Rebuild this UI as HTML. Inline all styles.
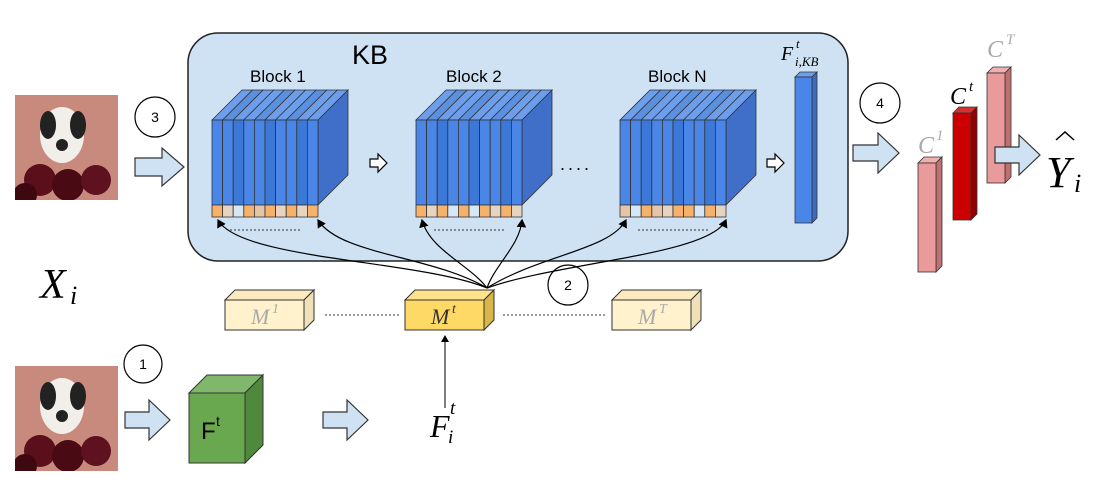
<!DOCTYPE html>
<html><head><meta charset="utf-8"><style>
html,body{margin:0;padding:0;background:#fff;}
svg{display:block;}
.m{font-family:"Liberation Serif",serif;font-style:italic;}
.s{font-family:"Liberation Sans",sans-serif;}
</style></head><body>
<svg id="c" width="1106" height="485" viewBox="0 0 1106 485" xmlns="http://www.w3.org/2000/svg">
<defs>
<marker id="ah" markerWidth="8" markerHeight="8" refX="6" refY="4" orient="auto"><path d="M0,0 L7,4 L0,8 z" fill="#000"/></marker>
<clipPath id="dc"><rect x="15" y="95" width="103" height="105"/></clipPath>
</defs>
<rect x="188" y="33" width="660" height="228" rx="30" fill="#cfe2f3" stroke="#222" stroke-width="1.5"/>
<text x="352" y="64" class="s" font-size="27">KB</text>
<text x="250" y="82" class="s" font-size="17">Block 1</text>
<text x="446" y="82" class="s" font-size="17">Block 2</text>
<text x="648" y="82" class="s" font-size="17">Block N</text>
<g id="blocks"></g>
<text x="560" y="170" class="s" font-size="18" letter-spacing="3">....</text>
<path d="M370,159 h8 v-5 l9,9 l-9,9 v-5 h-8 z" fill="#fff" stroke="#000" stroke-width="1.2"/>
<path d="M767,159 h8 v-5 l9,9 l-9,9 v-5 h-8 z" fill="#fff" stroke="#000" stroke-width="1.2"/>
<!-- F_KB bar -->
<polygon points="795,77 800,72 817,72 812,77" fill="#6d9eeb" stroke="#333" stroke-width="0.8"/>
<polygon points="812,77 817,72 817,218 812,223" fill="#3c6bc4" stroke="#333" stroke-width="0.8"/>
<rect x="795" y="77" width="17" height="146" fill="#4a86e8" stroke="#333" stroke-width="0.8"/>
<text x="781" y="60" class="m" font-size="20">F</text><text x="796" y="48" class="m" font-size="13">t</text><text x="795" y="66" class="m" font-size="13">i,KB</text>
<!-- dog images -->
<g id="dog1"><g clip-path="url(#dc)"><rect x="15" y="95" width="103" height="105" fill="#c98a7e"/><ellipse cx="62" cy="135" rx="22" ry="28" fill="#f2eeea"/><ellipse cx="48" cy="125" rx="8" ry="14" fill="#222"/><ellipse cx="78" cy="125" rx="8" ry="14" fill="#222"/><circle cx="62" cy="145" r="6" fill="#222"/><circle cx="40" cy="180" r="16" fill="#5a0f1a"/><circle cx="68" cy="185" r="16" fill="#4a0a14"/><circle cx="96" cy="180" r="15" fill="#5e1220"/><circle cx="25" cy="195" r="12" fill="#3d0810"/></g></g>
<use href="#dog1" x="0" y="271"/>
<!-- wide arrows -->
<g fill="#cfe2f3" stroke="#333" stroke-width="1.2">
<path d="M135,158 h27 v-10 l22,19 l-22,19 v-10 h-27 z"/>
<path d="M125,412 h24 v-12 l21,20 l-21,20 v-12 h-24 z"/>
<path d="M323,412 h24 v-12 l21,20 l-21,20 v-12 h-24 z"/>
<path d="M853,145 h25 v-12 l21,20 l-21,20 v-12 h-25 z"/>
</g>
<!-- circles -->
<g fill="#fff" stroke="#000" stroke-width="1.2">
<circle cx="155" cy="117" r="20"/><circle cx="143" cy="364" r="19"/><circle cx="568" cy="285" r="20"/><circle cx="880" cy="103" r="20"/>
</g>
<g class="s" font-size="14" text-anchor="middle"><text x="155" y="122">3</text><text x="143" y="369">1</text><text x="568" y="290">2</text><text x="880" y="108">4</text></g>
<!-- X_i -->
<text x="40" y="298" class="m" font-size="42">X</text><text x="70" y="304" class="m" font-size="26">i</text>
<!-- green cube -->
<polygon points="189,393 207,375 263,375 245,393" fill="#7fb76c" stroke="#333"/>
<polygon points="245,393 263,375 263,445 245,463" fill="#4f8a3c" stroke="#333"/>
<rect x="189" y="393" width="56" height="70" fill="#6aa84f" stroke="#333"/>
<text x="201" y="439" class="s" font-size="24">F</text><text x="216" y="426" class="s" font-size="14">t</text>
<!-- F_i^t -->
<text x="430" y="437" class="m" font-size="32">F</text><text x="450" y="414" class="m" font-size="19">t</text><text x="448" y="443" class="m" font-size="19">i</text>
<line x1="445" y1="408" x2="445" y2="336" stroke="#000" stroke-width="1" marker-end="url(#ah)"/>
<!-- M boxes -->
<g id="mboxes"></g>
<line x1="325" y1="315" x2="400" y2="315" stroke="#333" stroke-dasharray="2,2"/>
<line x1="503" y1="315" x2="605" y2="315" stroke="#333" stroke-dasharray="2,2"/>
<!-- curves -->
<g fill="none" stroke="#000" stroke-width="1.2">
<path d="M487,288 C420,260 240,260 218,220" marker-end="url(#ah)"/>
<path d="M487,288 C430,255 340,255 318,220" marker-end="url(#ah)"/>
<path d="M487,288 C470,265 430,250 422,220" marker-end="url(#ah)"/>
<path d="M487,288 C495,265 520,245 522,220" marker-end="url(#ah)"/>
<path d="M487,288 C540,255 610,250 626,220" marker-end="url(#ah)"/>
<path d="M487,288 C560,262 710,255 726,220" marker-end="url(#ah)"/>
</g>
<!-- C bars -->
<g id="bars"></g>
<path d="M995,147 h24 v-12 l21,20 l-21,20 v-12 h-24 z" fill="#cfe2f3" stroke="#333" stroke-width="1.2"/>
<text x="918" y="153" class="m" font-size="24" fill="#aaa">C</text><text x="936" y="140" class="m" font-size="15" fill="#aaa">1</text>
<text x="950" y="104" class="m" font-size="24">C</text><text x="969" y="91" class="m" font-size="15">t</text>
<text x="987" y="57" class="m" font-size="24" fill="#aaa">C</text><text x="1006" y="44" class="m" font-size="15" fill="#aaa">T</text>
<text x="1046" y="187" class="m" font-size="44">Y</text>
<path d="M1056,140 l9,-8 l9,8" fill="none" stroke="#000" stroke-width="1.5"/>
<text x="1074" y="192" class="m" font-size="26">i</text>
</svg>
<script>
var NS="http://www.w3.org/2000/svg";
function el(p,t,a){var e=document.createElementNS(NS,t);for(var k in a)e.setAttribute(k,a[k]);p.appendChild(e);return e;}
var B=document.getElementById("blocks");
var strips=[["#f6b26b","#e6d4c0","#d5e6f5","#f6b26b","#e6c4a8","#f6b26b","#e6d4c0","#f6b26b","#e6d4c0","#f6b26b"],
["#f6b26b","#e6d4c0","#f6b26b","#d5e6f5","#f6b26b","#d5e6f5","#f6b26b","#e6d4c0","#f6b26b","#e6d4c0"],
["#e6c4a8","#d5e6f5","#f6b26b","#e6c4a8","#e6d4c0","#f6b26b","#f6b26b","#d5e6f5","#f6b26b","#e6d4c0"]];
[212,416,620].forEach(function(x0,b){
 var w=106,y0=120,h=85,d=30;
 el(B,"polygon",{points:(x0+w)+","+y0+" "+(x0+w+d)+","+(y0-d)+" "+(x0+w+d)+","+(y0+h-d)+" "+(x0+w)+","+(y0+h),fill:"#3f6fc8",stroke:"#333","stroke-width":0.8});
 var sw=w/10;
 for(var i=0;i<10;i++){var x=x0+i*sw;
  el(B,"polygon",{points:x+","+y0+" "+(x+d)+","+(y0-d)+" "+(x+d+sw)+","+(y0-d)+" "+(x+sw)+","+y0,fill:i%3==1?"#5b8fe0":"#6d9eeb",stroke:"#333","stroke-width":0.8});}
 for(var i=0;i<10;i++){var x=x0+i*sw;
  el(B,"rect",{x:x,y:y0,width:sw,height:h,fill:i%3==2?"#3c78d8":"#4a86e8",stroke:"#333","stroke-width":0.8});
  el(B,"rect",{x:x,y:y0+h,width:sw,height:12,fill:strips[b][i],stroke:"#333","stroke-width":0.8});}
 el(B,"line",{x1:x0+18,y1:y0+h+25,x2:x0+w-18,y2:y0+h+25,stroke:"#333","stroke-dasharray":"2,2"});
});
var M=document.getElementById("mboxes");
[[225,"#fff2cc","#fbe9c0","#efe0b8","#aaa","1"],[405,"#ffd966","#ffe38a","#d9b64a","#333","t"],[612,"#fff2cc","#fbe9c0","#efe0b8","#aaa","T"]].forEach(function(m){
 var x=m[0],y=300,w=79,h=30,d=10;
 el(M,"polygon",{points:x+","+y+" "+(x+d)+","+(y-d)+" "+(x+w+d)+","+(y-d)+" "+(x+w)+","+y,fill:m[2],stroke:"#333"});
 el(M,"polygon",{points:(x+w)+","+y+" "+(x+w+d)+","+(y-d)+" "+(x+w+d)+","+(y+h-d)+" "+(x+w)+","+(y+h),fill:m[3],stroke:"#333"});
 el(M,"rect",{x:x,y:y,width:w,height:h,fill:m[1],stroke:"#333"});
 var t=el(M,"text",{x:x+26,y:y+24,"class":"m","font-size":22,fill:m[4]});t.textContent="M";
 var s=el(M,"text",{x:x+47,y:y+13,"class":"m","font-size":14,fill:m[4]});s.textContent=m[5];
});
var R=document.getElementById("bars");
[[918,163,272,"#e99a9a","#f0b0b0","#c07070"],[953,113,220,"#cc0000","#d83030","#900000"],[987,73,183,"#e99a9a","#f0b0b0","#c07070"]].forEach(function(c){
 var x=c[0],y=c[1],yb=c[2],w=18,d=6;
 el(R,"polygon",{points:x+","+y+" "+(x+d)+","+(y-d)+" "+(x+w+d)+","+(y-d)+" "+(x+w)+","+y,fill:c[4],stroke:"#333","stroke-width":0.8});
 el(R,"polygon",{points:(x+w)+","+y+" "+(x+w+d)+","+(y-d)+" "+(x+w+d)+","+(yb-d)+" "+(x+w)+","+yb,fill:c[5],stroke:"#333","stroke-width":0.8});
 el(R,"rect",{x:x,y:y,width:w,height:yb-y,fill:c[3],stroke:"#333","stroke-width":0.8});
});
</script>
</body></html>
